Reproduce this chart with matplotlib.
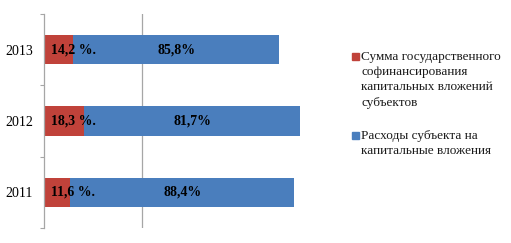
import matplotlib

matplotlib.use("Agg")
import matplotlib.pyplot as plt
from matplotlib.patches import Rectangle

years = ["2011", "2012", "2013"]
state_share = [0.27, 0.41, 0.30]
region_share = [2.28, 2.20, 2.10]
state_labels = ["11,6 %.", "18,3 %.", "14,2 %."]
region_labels = ["88,4%", "81,7%", "85,8%"]
legend_labels = [
    "Сумма государственного\nсофинансирования\nкапитальных вложений\nсубъектов",
    "Расходы субъекта на\nкапитальные вложения",
]

plt.rcParams["font.family"] = ["Liberation Serif", "DejaVu Serif"]

red = "#c0423a"
blue = "#4a7ebd"
W, H = 511, 243

fig = plt.figure(figsize=(W / 100, H / 100), dpi=100)
fig.patch.set_facecolor("white")
ax = fig.add_axes([44 / W, 15 / H, 294 / W, 214 / H])

pos = list(range(len(years)))
ax.barh(pos, state_share, height=0.41, color=red, linewidth=0)
ax.barh(pos, region_share, left=state_share, height=0.41, color=blue, linewidth=0)

for i in pos:
    ax.annotate(state_labels[i], (0, i), xytext=(5, 0), textcoords="offset points",
                ha="left", va="center", fontsize=10, fontweight="bold", color="black")
    ax.text(state_share[i] + region_share[i] / 2, i, region_labels[i],
            ha="center", va="center", fontsize=10, fontweight="bold", color="black")

ax.set_xlim(0, 3)
ax.set_ylim(-0.5, 2.5)
ax.axvline(1, color="#a6a6a6", linewidth=0.9, zorder=0)

for side in ["top", "right", "bottom"]:
    ax.spines[side].set_visible(False)
ax.spines["left"].set_color("#a6a6a6")
ax.spines["left"].set_linewidth(0.9)

ax.set_xticks([])
ax.set_yticks([-0.5, 0.5, 1.5, 2.5])
ax.set_yticklabels([])
ax.set_yticks(pos, minor=True)
ax.set_yticklabels(years, minor=True, fontsize=10)
ax.tick_params(axis="y", which="major", length=3, color="#a6a6a6", width=0.8)
ax.tick_params(axis="y", which="minor", length=0, pad=8)

# legend drawn by hand: marker sits on the first line of each entry
legend_tops = [51, 130]
for color, label, top in zip([red, blue], legend_labels, legend_tops):
    fig.patches.append(Rectangle((352 / W, 1 - (top + 8.5) / H), 7 / W, 7 / H,
                                 transform=fig.transFigure, color=color))
    fig.text(361 / W, 1 - top / H, label, ha="left", va="top", fontsize=9.5,
             linespacing=1.36, color="#1a1a1a")

fig.savefig("out.png", dpi=100)
